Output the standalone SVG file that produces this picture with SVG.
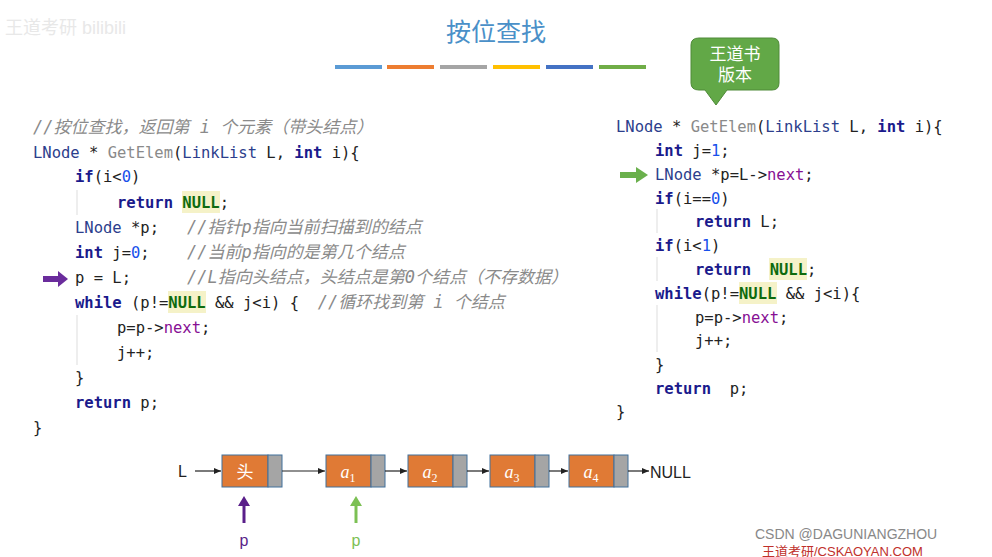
<svg xmlns="http://www.w3.org/2000/svg" width="992" height="557" viewBox="0 0 992 557">
<defs>
<style>
.c{font-family:"DejaVu Sans Mono","Noto Sans CJK SC",monospace;font-size:15.5px;fill:#222;white-space:pre}
.k{fill:#1a1a8c;font-weight:bold}
.t{fill:#2c3e8c}
.g{fill:#8a8a8a}
.n{fill:#1750eb}
.pu{fill:#871094}
.nl{fill:#0e6b0e;font-weight:bold}
.cm{fill:#8a8a8a;font-style:italic;font-size:17px}
.s{font-family:"Liberation Sans","Noto Sans CJK SC",sans-serif}
.or{fill:#e07a35;stroke:#41719c;stroke-width:1}
.gr{fill:#a5a5a5;stroke:#41719c;stroke-width:1}
.ln{stroke:#222;stroke-width:1.2;fill:none;marker-end:url(#ah)}
.lbl{font-family:"Liberation Serif","Noto Sans CJK SC",serif;font-style:italic;font-size:18px;fill:#fff}
</style>
<marker id="ah" markerWidth="8" markerHeight="8" refX="7" refY="4" orient="auto" markerUnits="userSpaceOnUse"><path d="M0,1 L7,4 L0,7 Z" fill="#222"/></marker>
</defs>
<rect width="992" height="557" fill="#fff"/>
<text x="496" y="41" text-anchor="middle" class="s" font-size="25" fill="#4a90c8">按位查找</text>
<g>
<rect x="335" y="65" width="47" height="4" fill="#5b9bd5"/>
<rect x="387" y="65" width="47" height="4" fill="#ed7d31"/>
<rect x="440" y="65" width="47" height="4" fill="#a5a5a5"/>
<rect x="493" y="65" width="47" height="4" fill="#ffc000"/>
<rect x="546" y="65" width="47" height="4" fill="#4472c4"/>
<rect x="599" y="65" width="47" height="4" fill="#70ad47"/>
</g>
<text x="5" y="34" class="s" font-size="18" fill="#e8e8e8">王道考研 bilibili</text>
<g id="callout">
<path d="M699,38 H772 Q779,38 779,45 V83 Q779,90 772,90 H727 L716,105 L705,90 H699 Q691,90 691,83 V45 Q691,38 699,38 Z" fill="#62a847" stroke="#4e8a38"/>
<text x="735" y="60" text-anchor="middle" class="s" font-size="17" fill="#fff">王道书</text>
<text x="735" y="81" text-anchor="middle" class="s" font-size="17" fill="#fff">版本</text>
</g>
<g id="code-left">
<rect x="182" y="191" width="38" height="22" fill="#f5f2c8"/>
<rect x="168" y="291" width="38" height="22" fill="#f5f2c8"/>
<line x1="77" y1="190" x2="77" y2="215" stroke="#ddd"/>
<line x1="77" y1="315" x2="77" y2="365" stroke="#ddd"/>
<text class="c" x="33" y="133"><tspan class="cm">//按位查找，返回第 i 个元素（带头结点）</tspan></text>
<text class="c" x="33" y="158"><tspan class="t">LNode</tspan> * <tspan class="g">GetElem</tspan>(<tspan class="t">LinkList</tspan> L, <tspan class="k">int</tspan> i){</text>
<text class="c" x="75" y="182"><tspan class="k">if</tspan>(i&lt;<tspan class="n">0</tspan>)</text>
<text class="c" x="117" y="208"><tspan class="k">return</tspan> <tspan class="nl">NULL</tspan>;</text>
<text class="c" x="75" y="233"><tspan class="t">LNode</tspan> *p;   <tspan class="cm">//指针p指向当前扫描到的结点</tspan></text>
<text class="c" x="75" y="258"><tspan class="k">int</tspan> j=<tspan class="n">0</tspan>;    <tspan class="cm">//当前p指向的是第几个结点</tspan></text>
<text class="c" x="75" y="283">p = L;      <tspan class="cm">//L指向头结点，头结点是第0个结点（不存数据）</tspan></text>
<text class="c" x="75" y="308"><tspan class="k">while</tspan> (p!=<tspan class="nl">NULL</tspan> &amp;&amp; j&lt;i) {  <tspan class="cm">//循环找到第 i 个结点</tspan></text>
<text class="c" x="117" y="333">p=p-&gt;<tspan class="pu">next</tspan>;</text>
<text class="c" x="117" y="358">j++;</text>
<text class="c" x="75" y="383">}</text>
<text class="c" x="75" y="408"><tspan class="k">return</tspan> p;</text>
<text class="c" x="33" y="433">}</text>
<path d="M43,276 H58 V271 L68,279 L58,287 V282 H43 Z" fill="#6a2c9c"/>
</g>
<g id="code-right">
<rect x="769" y="258" width="38" height="22" fill="#f5f2c8"/>
<rect x="739" y="282" width="38" height="22" fill="#f5f2c8"/>
<line x1="657" y1="209" x2="657" y2="233" stroke="#ddd"/>
<line x1="657" y1="257" x2="657" y2="281" stroke="#ddd"/>
<line x1="657" y1="305" x2="657" y2="352" stroke="#ddd"/>
<text class="c" x="616" y="132"><tspan class="t">LNode</tspan> * <tspan class="g">GetElem</tspan>(<tspan class="t">LinkList</tspan> L, <tspan class="k">int</tspan> i){</text>
<text class="c" x="655" y="156"><tspan class="k">int</tspan> j=<tspan class="n">1</tspan>;</text>
<text class="c" x="655" y="180"><tspan class="t">LNode</tspan> *p=L-&gt;<tspan class="pu">next</tspan>;</text>
<text class="c" x="655" y="204"><tspan class="k">if</tspan>(i==<tspan class="n">0</tspan>)</text>
<text class="c" x="695" y="227"><tspan class="k">return</tspan> L;</text>
<text class="c" x="655" y="251"><tspan class="k">if</tspan>(i&lt;<tspan class="n">1</tspan>)</text>
<text class="c" x="695" y="275"><tspan class="k">return</tspan>  <tspan class="nl">NULL</tspan>;</text>
<text class="c" x="655" y="299"><tspan class="k">while</tspan>(p!=<tspan class="nl">NULL</tspan> &amp;&amp; j&lt;i){</text>
<text class="c" x="695" y="323">p=p-&gt;<tspan class="pu">next</tspan>;</text>
<text class="c" x="695" y="346">j++;</text>
<text class="c" x="655" y="370">}</text>
<text class="c" x="655" y="394"><tspan class="k">return</tspan>  p;</text>
<text class="c" x="616" y="417">}</text>
<path d="M620,172 H636 V167 L648,175 L636,183 V178 H620 Z" fill="#6ab04c"/>
</g>
<g id="n-head"><rect class="or" x="222" y="455" width="46" height="32"/><rect class="gr" x="268" y="455" width="14" height="32"/><text x="245" y="478" text-anchor="middle" class="s" font-size="17" fill="#fff">头</text></g>
<g id="n-a1"><rect class="or" x="326" y="455" width="45" height="32"/><rect class="gr" x="371" y="455" width="14" height="32"/><text x="348" y="478" text-anchor="middle" class="lbl">a<tspan font-size="12" dy="4" font-style="normal">1</tspan></text></g>
<g id="n-a2"><rect class="or" x="408" y="455" width="45" height="32"/><rect class="gr" x="453" y="455" width="14" height="32"/><text x="430" y="478" text-anchor="middle" class="lbl">a<tspan font-size="12" dy="4" font-style="normal">2</tspan></text></g>
<g id="n-a3"><rect class="or" x="490" y="455" width="45" height="32"/><rect class="gr" x="535" y="455" width="14" height="32"/><text x="512" y="478" text-anchor="middle" class="lbl">a<tspan font-size="12" dy="4" font-style="normal">3</tspan></text></g>
<g id="n-a4"><rect class="or" x="569" y="455" width="45" height="32"/><rect class="gr" x="614" y="455" width="14" height="32"/><text x="591" y="478" text-anchor="middle" class="lbl">a<tspan font-size="12" dy="4" font-style="normal">4</tspan></text></g>
<text x="178" y="477" class="s" font-size="16" fill="#222">L</text>
<text x="650" y="478" class="s" font-size="16" fill="#222">NULL</text>
<g id="connectors">
<line class="ln" x1="195" y1="471" x2="221" y2="471"/>
<line class="ln" x1="282" y1="471" x2="325" y2="471"/>
<line class="ln" x1="385" y1="471" x2="407" y2="471"/>
<line class="ln" x1="467" y1="471" x2="489" y2="471"/>
<line class="ln" x1="549" y1="471" x2="568" y2="471"/>
<line class="ln" x1="628" y1="471" x2="649" y2="471"/>
<line x1="244" y1="523" x2="244" y2="505" stroke="#5a1f8a" stroke-width="3"/>
<path d="M238,506 L244,496 L250,506 Z" fill="#5a1f8a"/>
<line x1="356" y1="523" x2="356" y2="505" stroke="#7cc054" stroke-width="3"/>
<path d="M350,506 L356,496 L362,506 Z" fill="#7cc054"/>
</g>
<text x="244" y="546" text-anchor="middle" class="s" font-size="16" fill="#5a1f8a">p</text>
<text x="356" y="546" text-anchor="middle" class="s" font-size="16" fill="#7cc054">p</text>
<text x="755" y="539" class="s" font-size="14" fill="#888">CSDN @DAGUNIANGZHOU</text>
<text x="762" y="556" class="s" font-size="13" fill="#c0302b">王道考研/CSKAOYAN.COM</text>
</svg>
